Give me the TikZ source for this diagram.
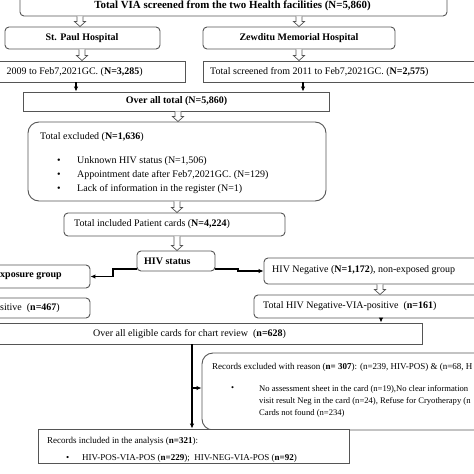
\documentclass[tikz,border=0pt]{standalone}
\usepackage{fontspec}
\setmainfont{Liberation Serif}
\usetikzlibrary{arrows.meta,calc}
\definecolor{boxgray}{RGB}{85,85,85}
\newcommand\harrow[2]{\draw[hollow] let \p1=#1, \p2=#2 in
  (\x1-3pt,\y1) -- (\x1-3pt,\y2+5pt) -- (\x1-5.5pt,\y2+5pt) -- (\x1,\y2) --
  (\x1+5.5pt,\y2+5pt) -- (\x1+3pt,\y2+5pt) -- (\x1+3pt,\y1);}
\begin{document}
\begin{tikzpicture}[x=1pt,y=-1pt,
  box/.style={draw=boxgray, line width=0.9pt, inner sep=0pt, rectangle, fill=white},
  rbox/.style={box, rounded corners=4pt},
  bigr/.style={box, rounded corners=11pt},
  txt/.style={inner sep=0pt, font=\fontsize{10}{12}\selectfont, anchor=west, text=black},
  stxt/.style={txt, font=\fontsize{9}{11}\selectfont},
  xtxt/.style={txt, font=\fontsize{8.6}{10}\selectfont},
  ctxt/.style={txt, anchor=center},
  solidarrow/.style={-{Latex[length=5pt,width=4.5pt]}, line width=1.1pt, black},
  hollow/.style={draw=boxgray, fill=white, line width=0.7pt}
]
\useasboundingbox (0,0) rectangle (474,474);
\clip (0,0) rectangle (474,474);
\fill[white] (0,0) rectangle (474,474);

% boxes
\node[rbox, minimum width=427pt, minimum height=36pt] (top) at (233.5,-2) {};
\node[rbox, minimum width=155pt, minimum height=22pt] (stpaul) at (82.5,38) {};
\node[rbox, minimum width=192pt, minimum height=22pt] (zew) at (299,38) {};
\node[box, minimum width=205pt, minimum height=21pt] (leftscr) at (82.5,71.5) {};
\node[box, minimum width=297pt, minimum height=21pt] (rightscr) at (351.5,71.5) {};
\node[box, minimum width=306pt, minimum height=19pt] (overall) at (176,101.5) {};
\node[bigr, minimum width=298pt, minimum height=79pt] (excl) at (177,161.5) {};
\node[rbox, minimum width=221pt, minimum height=23pt] (incl) at (174.5,224.5) {};
\node[rbox, minimum width=78pt, minimum height=20pt] (hivs) at (176,261) {};
\node[rbox, minimum width=110pt, minimum height=23pt] (posgroup) at (35,276.5) {};
\node[rbox, minimum width=236pt, minimum height=26pt] (neg) at (382,271) {};
\node[rbox, minimum width=110pt, minimum height=20pt] (posvia) at (35,308) {};
\node[rbox, minimum width=246pt, minimum height=23pt] (negvia) at (377,306.5) {};
\node[box, minimum width=442pt, minimum height=21pt] (elig) at (201,333.5) {};
\node[bigr, minimum width=298pt, minimum height=77pt] (recexcl) at (351,391.5) {};
\node[box, minimum width=311pt, minimum height=34pt] (recincl) at (193.5,446) {};

% texts
\node[ctxt, font=\fontsize{10.9}{12}\selectfont] (t1) at (232.5,6) {\bfseries Total VIA screened from the two Health facilities (N=5,860)};
\node[ctxt] (t2) at (82,38) {\bfseries St. Paul Hospital};
\node[ctxt] (t3) at (299,38) {\bfseries Zewditu Memorial Hospital};
\node[txt, anchor=east] (t4) at (143,72) {2009 to Feb7,2021GC. (\textbf{N=3,285})};
\node[txt] (t5) at (210,72) {Total screened from 2011 to Feb7,2021GC. (\textbf{N=2,575})};
\node[ctxt] (t6) at (176.5,101.5) {\bfseries Over all total (N=5,860)};
\node[txt] (t7) at (40,137) {Total excluded (\textbf{N=1,636})};
\node[txt] (b1) at (57,161) {•};
\node[txt] (t8) at (77,161) {Unknown HIV status (N=1,506)};
\node[txt] (b2) at (57,175) {•};
\node[txt] (t9) at (77,175) {Appointment date after Feb7,2021GC. (N=129)};
\node[txt] (b3) at (57,189) {•};
\node[txt] (t10) at (77,189) {Lack of information in the register (N=1)};
\node[txt] (t11) at (74,224.5) {Total included Patient cards (\textbf{N=4,224})};
\node[txt] (t12) at (144,261) {\bfseries HIV status};
\node[txt] (t13) at (0,276) {\bfseries xposure group};
\node[txt] (t14) at (272,270) {HIV Negative (\textbf{N=1,172}), non-exposed group};
\node[txt] (t15) at (0,308) {sitive\ \ (\textbf{n=467})};
\node[txt] (t16) at (263,306) {Total HIV Negative-VIA-positive\ \ (\textbf{n=161})};
\node[txt] (t17) at (93,334) {Over all eligible cards for chart review\ \ (\textbf{n=628})};
\node[stxt] (t18) at (212,367) {Records excluded with reason (\textbf{n= 307}): (n=239, HIV-POS) \& (n=68, H};
\node[xtxt] (b4) at (231,389) {•};
\node[xtxt] (t19) at (259,389) {No assessment sheet in the card (n=19),No clear information};
\node[xtxt] (t20) at (259,401.5) {visit result Neg in the card (n=24), Refuse for Cryotherapy (n};
\node[xtxt] (t21) at (259,413.5) {Cards not found (n=234)};
\node[stxt] (t22) at (47,441) {Records included in the analysis (\textbf{n=321}):};
\node[stxt] (b5) at (66,458) {•};
\node[stxt] (t23) at (82,458) {HIV-POS-VIA-POS (\textbf{n=229});\ \ HIV-NEG-VIA-POS (\textbf{n=92})};

% reference columns
\coordinate (x1) at (80,0);
\coordinate (x2) at (299,0);
\coordinate (x3) at (82,0);
\coordinate (x4) at (178,0);
\coordinate (x5) at (177,0);
\coordinate (x6) at (380,0);
\coordinate (s1) at (76,0);
\coordinate (s2) at (303,0);
\coordinate (s3) at (381,0);
\coordinate (v) at (192,0);
\coordinate (jl) at (113,269);
\coordinate (jr) at (238,269);
\coordinate (br) at (192,388);

% hollow arrows
\harrow{(top.south -| x1)}{(stpaul.north -| x1)}
\harrow{(top.south -| x2)}{(zew.north -| x2)}
\harrow{(stpaul.south -| x3)}{(leftscr.north -| x3)}
\harrow{(zew.south -| x2)}{(rightscr.north -| x2)}
\harrow{(overall.south -| x4)}{(excl.north -| x4)}
\harrow{(excl.south -| x5)}{(incl.north -| x5)}
\harrow{(incl.south -| x5)}{(hivs.north -| x5)}
\harrow{(neg.south -| x6)}{(negvia.north -| x6)}

% solid arrows
\draw[solidarrow] (leftscr.south -| s1) -- (overall.north -| s1);
\draw[solidarrow] (rightscr.south -| s2) -- (overall.north -| s2);
\draw[solidarrow] (negvia.south -| s3) -- (elig.north -| s3);
\draw[solidarrow] (jl -| hivs.west) -- (jl) -- (jl |- posgroup.east) -- (posgroup.east);
\draw[solidarrow] (jr -| hivs.east) -- (jr) -- (jr |- neg.west) -- (neg.west);
\draw[solidarrow] (elig.south -| v) -- (recincl.north -| v);
\draw[solidarrow] (br) -- (br -| recexcl.west);
\end{tikzpicture}
\end{document}
